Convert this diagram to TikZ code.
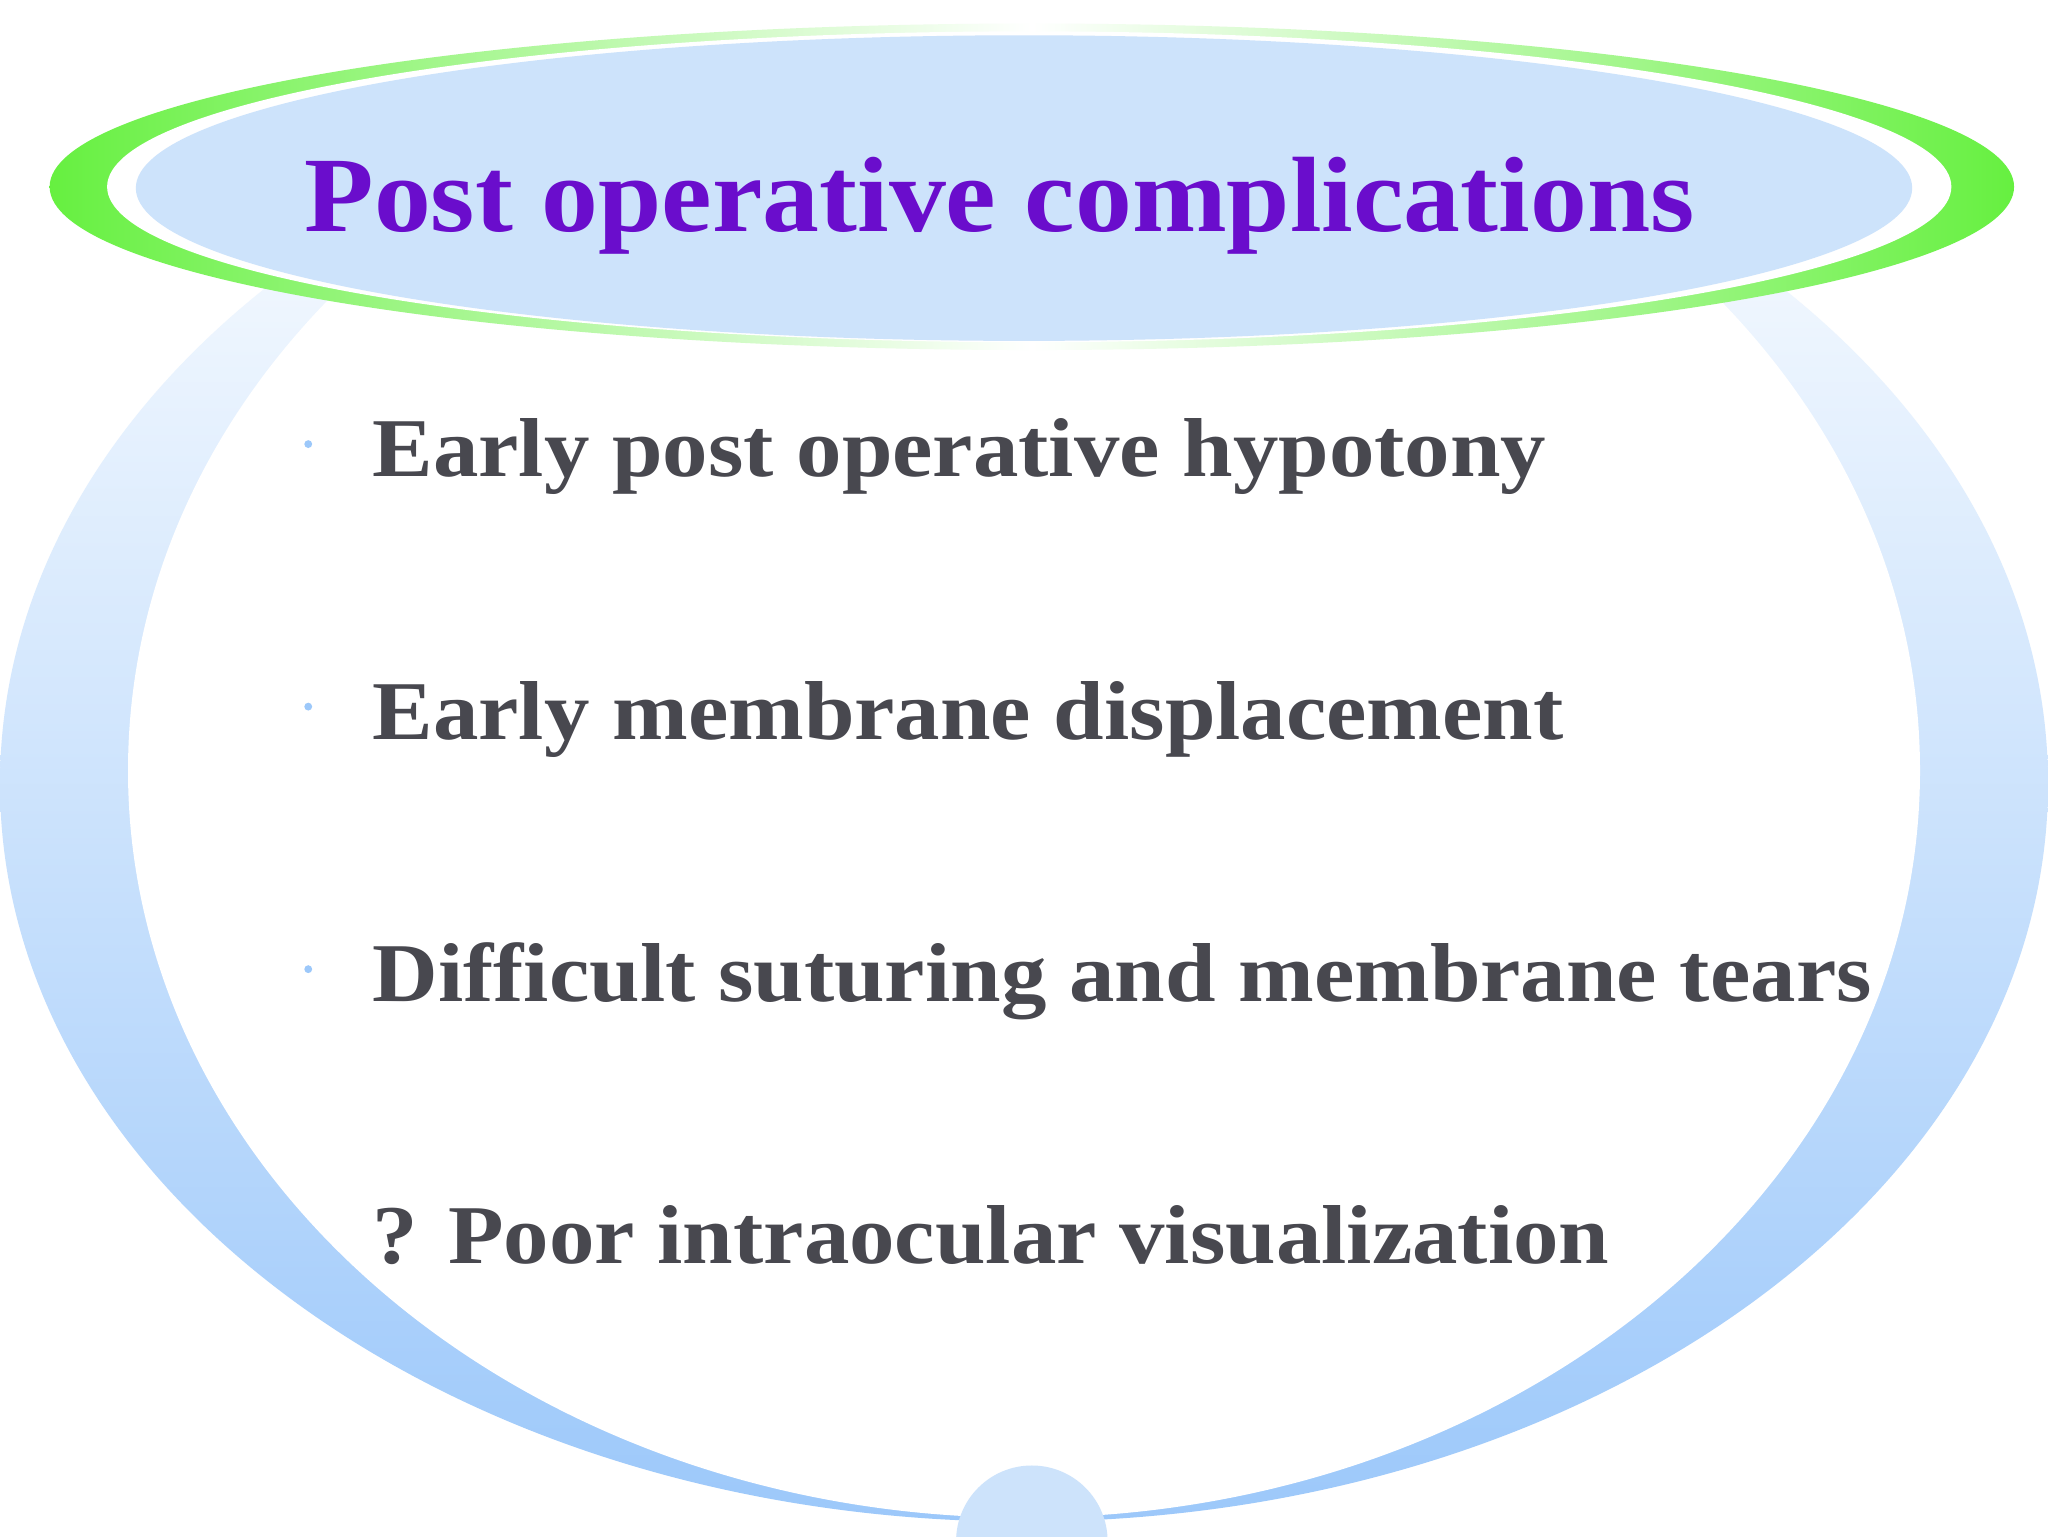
\documentclass[tikz,border=0pt]{standalone}
\usepackage{fontspec}
\setmainfont{Liberation Serif}
\definecolor{ttl}{HTML}{6A0DCC}
\definecolor{txt}{HTML}{48484F}
\definecolor{lb}{HTML}{9CC8FA}
\definecolor{lb2}{HTML}{CDE3FB}
\definecolor{grn}{HTML}{66F040}
\begin{document}
\begin{tikzpicture}[x=1pt,y=-1pt,
  item/.style={anchor=base west,text=txt,font=\fontsize{64}{70}\selectfont\bfseries,inner sep=0,xscale=1.087},
  dot/.style={circle,fill=lb,inner sep=0,minimum size=6}]
\useasboundingbox (0,0) rectangle (1568,1176);
\fill[white] (0,0) rectangle (1568,1176);
% pot
\shade[top color=white,bottom color=lb] (784,600) ellipse [x radius=784,y radius=565];
\fill[white] (784,590) ellipse [x radius=686,y radius=572];
\fill[lb2] (790,1180) circle (58);
% header
\shade[left color=grn,right color=grn,middle color=white] (790,143) ellipse [x radius=752,y radius=125];
\fill[white] (788,143) ellipse [x radius=706,y radius=119];
\fill[lb2] (784,144) ellipse [x radius=680,y radius=117];
\node[anchor=base west,text=ttl,font=\fontsize{82}{90}\selectfont\bfseries,inner sep=0,xscale=1.062] (title) at (233,177) {Post operative complications};
\node[dot] (d1) at (236,340) {};
\node[dot] (d2) at (236,541) {};
\node[dot] (d3) at (236,742) {};
\node[item] (i1) at (285,365) {Early post operative hypotony};
\node[item] (i2) at (285,566) {Early membrane displacement};
\node[item] (i3) at (285,767) {Difficult suturing and membrane tears};
\node[item] (i4) at (285,967) {? Poor intraocular visualization};
\end{tikzpicture}
\end{document}
